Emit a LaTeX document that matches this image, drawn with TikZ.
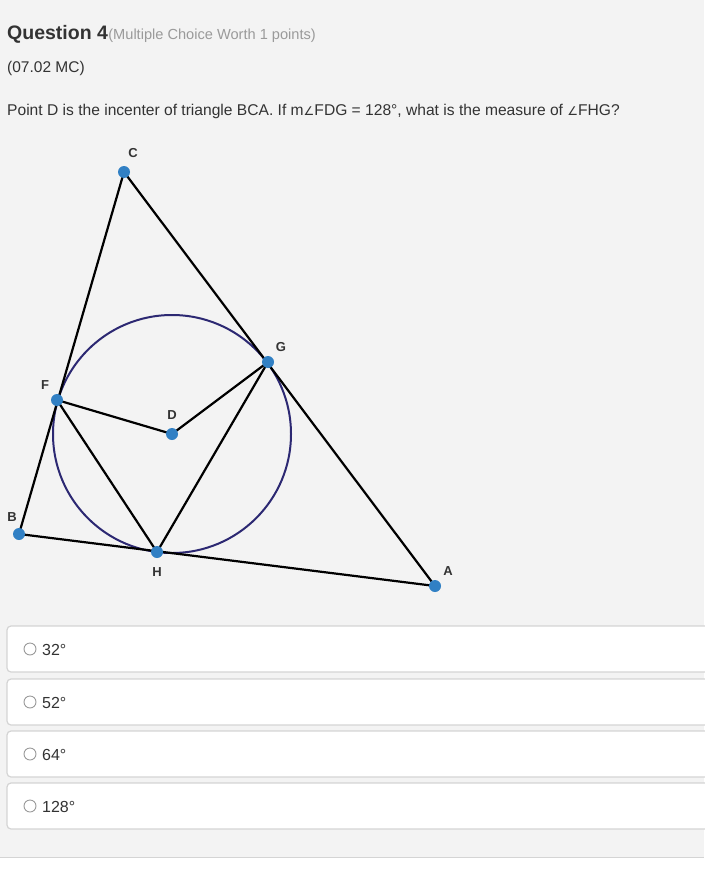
\documentclass[tikz,border=0pt]{standalone}
\usepackage{fontspec}
\setmainfont{Liberation Sans}
\newfontfamily\symfont{DejaVu Sans}
\usetikzlibrary{positioning}
\definecolor{pagebg}{HTML}{F3F3F3}
\definecolor{ptblue}{HTML}{3180C4}
\definecolor{ringnavy}{HTML}{2C2872}
\definecolor{boxline}{HTML}{D4D4D4}
\definecolor{txtdark}{HTML}{333333}
\definecolor{txtgray}{HTML}{9A9A9A}
\newcommand{\fs}[1]{\fontsize{#1}{#1}\selectfont}
\newcommand{\angsym}{{\symfont\fs{12}∠}}

\begin{document}
\begin{tikzpicture}[x=1pt,y=-1pt,
  dot/.style={circle,fill=ptblue,inner sep=0pt,minimum size=12pt},
  lbl/.style={font=\bfseries\fs{13},text=txtdark,inner sep=0pt},
  seg/.style={line width=2.2pt,black},
  choice/.style={draw=boxline,fill=white,rounded corners=4pt,line width=1.2pt},
  radio/.style={circle,draw=txtgray,fill=white,line width=0.9pt,minimum size=12pt,inner sep=0pt},
  ans/.style={anchor=base west,inner sep=0pt,text=txtdark,font=\fs{16}}]
  \useasboundingbox (0,0) rectangle (704,872);
  \fill[pagebg] (0,0) rectangle (704,872);
  \fill[white] (0,858) rectangle (704,872);
  \draw[boxline,line width=1pt] (0,857.5) -- (704,857.5);

  % heading
  \node[anchor=base west,inner sep=0pt,text=txtdark] (title) at (7,40)
    {\bfseries\fs{19.5}Question 4};
  \node[anchor=base west,inner sep=0pt,text=txtgray] (worth) at (title.base east)
    {\fs{14.6}(Multiple Choice Worth 1 points)};
  \node[anchor=base west,inner sep=0pt,text=txtdark] (code) at (7,73)
    {\fs{15.5}(07.02 MC)};
  \node[anchor=base west,inner sep=0pt,text=txtdark] (question) at (7,116)
    {\fs{15.6}Point D is the incenter of triangle BCA. If m\angsym FDG = 128°, what is the measure of \angsym FHG?};

  % figure
  \coordinate (C) at (124,172);
  \coordinate (G) at (268,362);
  \coordinate (F) at (57,400);
  \coordinate (D) at (172,434);
  \coordinate (B) at (19,534);
  \coordinate (H) at (157,552);
  \coordinate (A) at (435,586);

  \draw[ringnavy,line width=2pt] (D) circle (119);
  \draw[seg] (B) -- (C) -- (A) -- cycle;
  \draw[seg] (F) -- (H) -- (G);
  \draw[seg] (F) -- (D) -- (G);
  \foreach \p in {A,B,C,D,F,G,H}
    \node[dot] (dot\p) at (\p) {};

  \node[lbl] (labC) at (133,153) {C};
  \node[lbl] (labG) at (281,347) {G};
  \node[lbl] (labF) at (45,385) {F};
  \node[lbl] (labD) at (172,415) {D};
  \node[lbl] (labB) at (12,517) {B};
  \node[lbl] (labH) at (157,572) {H};
  \node[lbl] (labA) at (448,571) {A};

  % answer choices
  \foreach \y/\v [count=\i] in {626/32,679/52,731/64,783/128} {
    \draw[choice] (7,\y) rectangle (715,\y+46);
    \node[radio] (radio\i) at (30,\y+23) {};
    \node[ans] (ans\i) at (42,\y+29) {\v°};
  }
\end{tikzpicture}
\end{document}
